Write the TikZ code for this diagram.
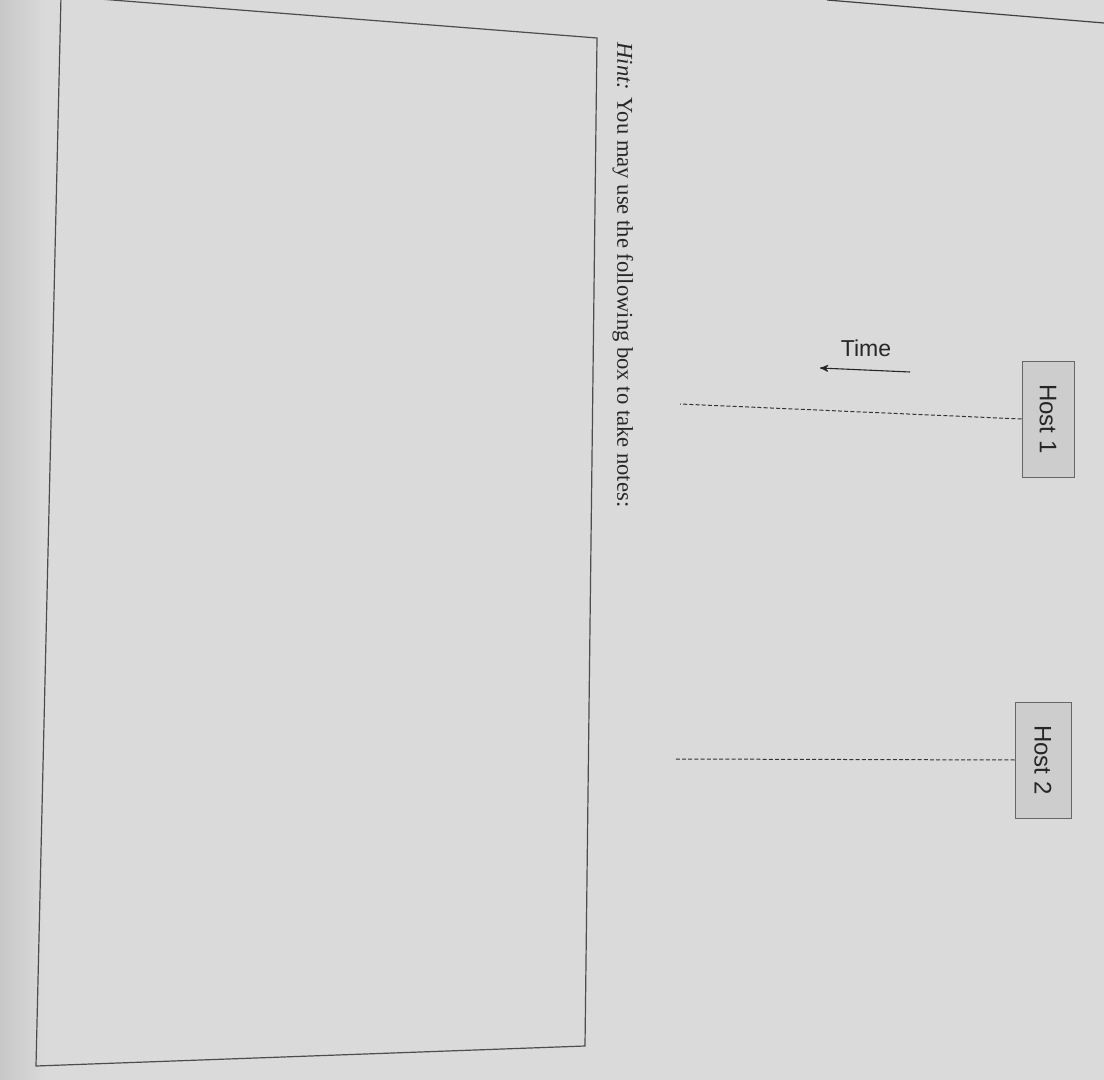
\documentclass[tikz,border=0pt]{standalone}
\usepackage{fontspec}
\setmainfont{Liberation Serif}
\setsansfont{Liberation Sans}
\usetikzlibrary{arrows}
\definecolor{paper}{RGB}{218,218,218}
\definecolor{hostfill}{RGB}{205,205,205}

\begin{document}
\begin{tikzpicture}[x=0.5pt,y=-0.5pt,>=stealth',
                    host/.style={rectangle,draw=black!60,fill=hostfill,rotate=-90,
                                 minimum width=58pt,minimum height=26pt,inner sep=0pt,
                                 font=\sffamily\fontsize{12}{14}\selectfont,text=black!85},
                    lifeline/.style={draw=black!80,line width=0.5pt,dash pattern=on 2pt off 1.1pt}]
  \useasboundingbox (0,0) rectangle (1104,1080);
  \clip (0,0) rectangle (1104,1080);
  \fill[paper] (0,0) rectangle (1104,1080);
  \shade[left color=black!22,right color=paper] (0,0) rectangle (45,1080);

  % page edge and notes box
  \draw[black!75,line width=0.6pt] (827,0) -- (1104,23);
  \draw[black!70,line width=0.6pt] (61,-4) -- (597,38) -- (585,1046) -- (36,1066) -- cycle;

  \node[host]                      (host1) at (1048,419) {Host 1};
  \node[host, minimum height=28pt] (host2) at (1043,760) {Host 2};

  \coordinate (end1)   at (680,404);
  \coordinate (end2)   at (675,759);
  \coordinate (tstart) at (910,372);
  \coordinate (tend)   at (820,368);

  \node[font=\sffamily\fontsize{11.5}{13}\selectfont,text=black!85] (time) at (866,348) {Time};
  \node[rotate=-90,font=\fontsize{11.3}{13}\selectfont,text=black!85] (hint) at (623,275)
       {\textit{Hint:} You may use the following box to take notes:};

  \path[lifeline] (host1.south) -- (end1)
                  (host2.south) -- (end2);
  \draw[->,black!85,line width=0.55pt] (tstart) -- (tend);
\end{tikzpicture}
\end{document}
